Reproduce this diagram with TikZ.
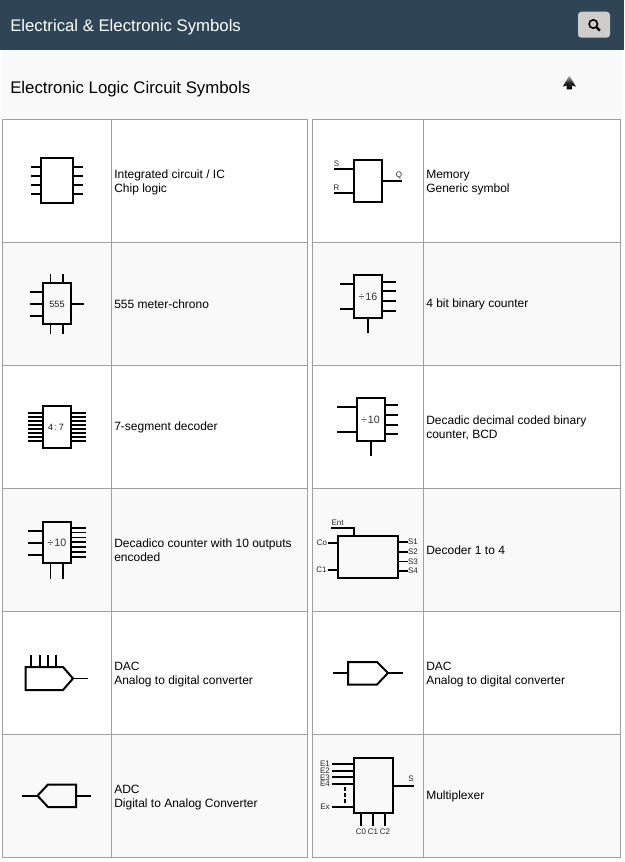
\documentclass[tikz,border=0pt]{standalone}
\usepackage{fontspec}
\setmainfont{Liberation Sans}
\tikzset{
  sym/.style={draw=black,line width=1.5pt,line join=miter},
  pin/.style={draw=black,line width=1.5pt},
  thinpin/.style={draw=black,line width=1.3pt},
  grid/.style={draw=gridc,line width=0.75pt},
  lab/.style={anchor=west,inner sep=0pt,font=\fontsize{9}{10.5}\selectfont,align=left,text=black},
  tiny/.style={inner sep=0pt,font=\fontsize{6}{6.5}\selectfont,text=black!85},
  mid/.style={inner sep=0pt,font=\fontsize{6.8}{7}\selectfont,text=black!90},
  big/.style={inner sep=0pt,font=\fontsize{8}{8.5}\selectfont,text=black!80}
}
\definecolor{head}{HTML}{2F4454}
\definecolor{panel}{HTML}{F9F9F9}
\definecolor{gridc}{HTML}{A0A0A0}
\definecolor{btn}{HTML}{CFCCCC}
\begin{document}
\begin{tikzpicture}[x=0.75pt,y=-0.75pt]
\useasboundingbox (0,0) rectangle (624,862);
\fill[white] (0,0) rectangle (624,862);
\fill[head] (0,0) rectangle (624,50);
\fill[panel] (2,50) rectangle (622,119);
\node[anchor=west,inner sep=0pt,text=white,font=\fontsize{12.55}{14}\selectfont] (title) at (10,27) {Electrical \& Electronic Symbols};
\node[anchor=west,inner sep=0pt,text=black,font=\fontsize{12.6}{14}\selectfont] (sub) at (10,89.5) {Electronic Logic Circuit Symbols};
\fill[btn,rounded corners=2.5pt] (578,11.7) rectangle (610,37.7);
\draw[black,line width=1.2pt] (593.3,24) circle (4.2);
\draw[black,line width=1.7pt] (596.3,27) -- (600,30.7);
\shade[top color=gray!60,bottom color=black,middle color=black!85] (569.3,75.7) -- (576,86.7) -- (572,85.5) -- (572,89.5) -- (566.5,89.5) -- (566.5,85.5) -- (562.7,86.7) -- cycle;
% table shading
\foreach \y in {242.5,488.5,734.5}{
  \fill[panel] (2.5,\y) rectangle (307.5,\y+123);
  \fill[panel] (312.5,\y) rectangle (620.5,\y+123);
}
% table grid
\foreach \y in {119.5,242.5,365.5,488.5,611.5,734.5,857.5}{
  \draw[grid] (2.5,\y) -- (307.5,\y);
  \draw[grid] (312.5,\y) -- (620.5,\y);
}
\foreach \x in {2.5,111.5,307.5,312.5,423.5,620.5}{
  \draw[grid] (\x,119.5) -- (\x,857.5);
}
% labels
\node[lab] (t1) at (114,182.2) {Integrated circuit / IC\\Chip logic};
\node[lab] (t2) at (114,304.7) {555 meter-chrono};
\node[lab] (t3) at (114,427.7) {7-segment decoder};
\node[lab] (t4) at (114,550.7) {Decadico counter with 10 outputs\\encoded};
\node[lab] (t5) at (114,674.2) {DAC\\Analog to digital converter};
\node[lab] (t6) at (114,797.2) {ADC\\Digital to Analog Converter};
\node[lab] (t7) at (426,182.2) {Memory\\Generic symbol};
\node[lab] (t8) at (426,304.7) {4 bit binary counter};
\node[lab] (t9) at (426,427.7) {Decadic decimal coded binary\\counter, BCD};
\node[lab] (t10) at (426,550.7) {Decoder 1 to 4};
\node[lab] (t11) at (426,674.2) {DAC\\Analog to digital converter};
\node[lab] (t12) at (426,796.7) {Multiplexer};
% IC
\foreach \y in {167,176,185,194}{\draw[pin] (31,\y)--(41,\y); \draw[pin] (73,\y)--(83,\y);}
\draw[sym] (41,158) rectangle (73,203);
% 555
\foreach \y in {292,304,316}{\draw[pin] (30,\y)--(43,\y);}
\draw[pin] (71,304)--(84,304);
\foreach \x in {50.5,63}{\draw[thinpin] (\x,274)--(\x,283); \draw[thinpin] (\x,324)--(\x,334);}
\draw[sym] (43,283) rectangle (70.5,324);
\node[mid] (n555) at (57,304) {555};
% 4:7
\foreach \y in {412.7,416.7,420.7,425,429,432.7,436.7,440.7}{\draw[thinpin] (28,\y)--(43,\y); \draw[thinpin] (70.5,\y)--(86,\y);}
\draw[sym] (43,406) rectangle (70.5,448);
\node[mid] (n47) at (56,427) {4\,:\,7};
% Decadico
\foreach \y in {530.7,542.7,555}{\draw[pin] (28,\y)--(43,\y);}
\foreach \y in {527.7,532.5,537.4,542.3,547.3,552.3,557.3}{\draw[thinpin] (70.5,\y)--(86,\y);}
\foreach \x in {50.5,63}{\draw[thinpin] (\x,563)--(\x,579);}
\draw[sym] (43,522) rectangle (70.5,563);
\node[big] (d10a) at (57,543) {÷\kern0.08em 10};
% DAC left
\foreach \x in {31.3,39.7,47.7,56}{\draw[thinpin] (\x,655)--(\x,667);}
\draw[thinpin] (73,678.5)--(88,678.5);
\draw[sym] (25.5,667) -- (63,667) -- (73,678.5) -- (63,690) -- (25.5,690) -- cycle;
% ADC
\draw[pin] (22,795.7)--(37.5,795.7);
\draw[pin] (76,795.7)--(91,795.7);
\draw[sym] (76,784.5) -- (48,784.5) -- (37.5,795.7) -- (48,807) -- (76,807) -- cycle;
% Memory
\draw[pin] (334,168.7)--(354,168.7);
\draw[pin] (334,192.7)--(354,192.7);
\draw[pin] (382,181)--(402,181);
\draw[sym] (353.7,160) rectangle (382,202);
\node[tiny] (ms) at (336.5,163.5) {S};
\node[tiny] (mr) at (336.5,188) {R};
\node[tiny] (mq) at (399,175.5) {Q};
% 4 bit
\draw[pin] (340,284)--(354,284);
\draw[pin] (340,308.7)--(354,308.7);
\foreach \y in {281.7,291.5,301.5,311}{\draw[pin] (382,\y)--(396,\y);}
\draw[pin] (368,318)--(368,333);
\draw[sym] (354,275) rectangle (382,318);
\node[big] (d16) at (368,297) {÷\kern0.08em 16};
% BCD
\draw[pin] (337,407)--(356.5,407);
\draw[pin] (337,431.7)--(356.5,431.7);
\foreach \y in {405,415,424.5,434}{\draw[pin] (384.5,\y)--(398,\y);}
\draw[pin] (370.5,441)--(370.5,456);
\draw[sym] (356.5,398) rectangle (384.5,441);
\node[big] (d10b) at (370.5,420) {÷\kern0.08em 10};
% Decoder
\draw[pin] (331,528)--(353.5,528)--(353.5,536);
\draw[thinpin] (328,543)--(338.3,543);
\draw[thinpin] (328,570)--(338.3,570);
\foreach \y/\l in {542/S1,552/S2,561.5/S3,571/S4}{
  \draw[thinpin] (397.7,\y)--(408,\y);
  \node[tiny] at (413,\y) {\l};
}
\draw[sym] (338.3,536) rectangle (397.7,578);
\node[tiny] (ent) at (337.5,523) {Ent};
\node[tiny] (co) at (322,543) {Co};
\node[tiny] (c1) at (321.5,570) {C1};
% DAC right
\draw[pin] (333,673)--(348,673);
\draw[pin] (388,673)--(403,673);
\draw[sym] (348,662) -- (377,662) -- (388,673) -- (377,684.5) -- (348,684.5) -- cycle;
% Mux
\foreach \y/\l in {763.7/E1,771/E2,777.3/E3,784/E4}{
  \draw[pin] (332,\y)--(353.5,\y);
  \node[tiny] at (325,\y) {\l};
}
\draw[draw=black,line width=1.5pt,dash pattern=on 3pt off 1.5pt] (345,787)--(345,805);
\draw[thinpin] (332,807)--(353.5,807);
\node[tiny] (ex) at (325,807) {Ex};
\draw[thinpin] (392.5,785.7)--(414,785.7);
\node[tiny] (ms2) at (411,779) {S};
\foreach \x/\l in {361/C0,373/C1,385/C2}{
  \draw[thinpin] (\x,812.7)--(\x,826);
  \node[tiny] at (\x,832) {\l};
}
\draw[sym] (353.5,758) rectangle (392.5,812.7);
\end{tikzpicture}
\end{document}
